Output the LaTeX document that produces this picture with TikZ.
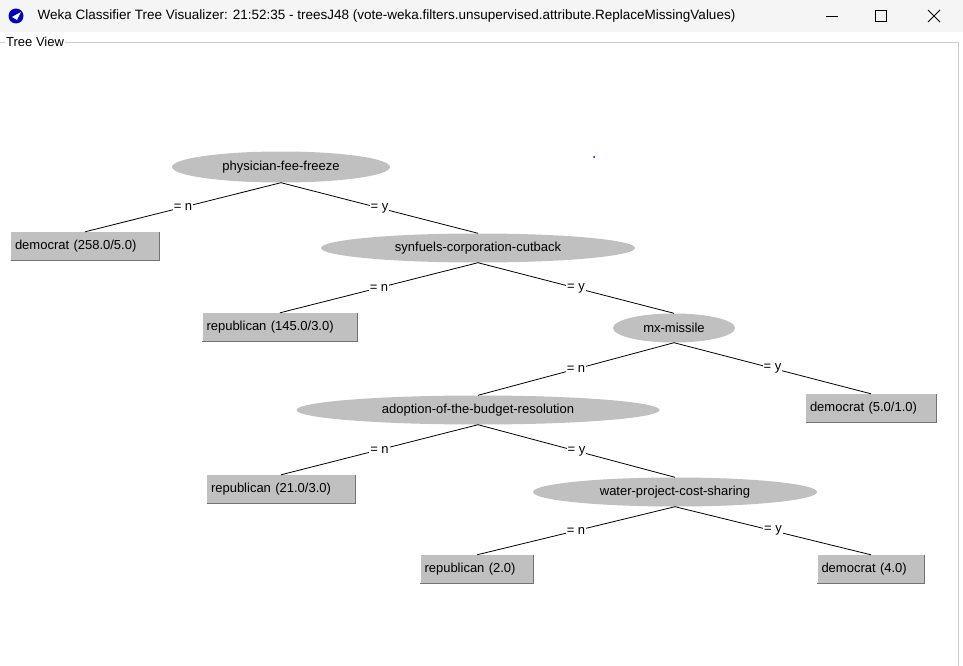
\documentclass[tikz,border=0pt]{standalone}
\usepackage{fontspec}
\setmainfont{Liberation Sans}
\usetikzlibrary{shapes.geometric}
\definecolor{wgray}{HTML}{C0C0C0}
\begin{document}
\begin{tikzpicture}[x=1pt,y=-1pt,
  every node/.style={font=\fontsize{13}{15}\selectfont},
  split/.style={ellipse, fill=wgray, inner sep=0pt},
  leaf/.style={rectangle, fill=wgray, inner xsep=4pt, inner ysep=0pt, minimum height=28pt, align=left},
  edge/.style={draw=black, line width=0.8pt},
  lbl/.style={fill=white, inner sep=1pt, midway}]
\useasboundingbox (0,0) rectangle (963,666);
\fill[white] (0,0) rectangle (963,666);
\fill[black!4] (0,0) rectangle (963,32);
\node[anchor=west, font=\fontsize{13.5}{15}\selectfont] (title) at (34,16) {Weka Classifier Tree Visualizer: 21:52:35 - treesJ48 (vote-weka.filters.unsupervised.attribute.ReplaceMissingValues)};
\fill[blue!75!black] (16,16) circle (7.5);
\fill[white] (12,17) -- (21,12) -- (17,20) -- cycle;
\draw[line width=0.8pt] (826,16) -- (838,16);
\draw[line width=0.8pt] (875,10) rectangle (886,21);
\draw[line width=0.8pt] (928,10) -- (940,22) (940,10) -- (928,22);
\draw[black!20] (0,42) -- (958,42) -- (958,666);
\node[anchor=west, fill=white, inner sep=1pt, font=\fontsize{13}{14}\selectfont] (tv) at (5,42) {Tree View};
\fill[blue] (594,157) circle (1);

\node[split, minimum width=218pt, minimum height=31pt] (a) at (281,167) {physician-fee-freeze};
\node[leaf, text width=140pt] (b) at (85,246) {democrat (258.0/5.0)};
\node[split, minimum width=314pt, minimum height=29pt] (c) at (478,248) {synfuels-corporation-cutback};
\node[leaf, text width=147pt] (d) at (280,327) {republican (145.0/3.0)};
\node[split, minimum width=122pt, minimum height=29pt] (e) at (674,328) {mx-missile};
\node[split, minimum width=363pt, minimum height=29pt] (f) at (478,410) {adoption-of-the-budget-resolution};
\node[leaf, text width=122pt] (g) at (871,408) {democrat (5.0/1.0)};
\node[leaf, text width=140pt] (h) at (281,489) {republican (21.0/3.0)};
\node[split, minimum width=284pt, minimum height=29pt] (i) at (675,492) {water-project-cost-sharing};
\node[leaf, text width=105pt] (j) at (477,569) {republican (2.0)};
\node[leaf, text width=99pt] (k) at (871,569) {democrat (4.0)};

\foreach \n in {b,d,g,h,j,k}{
  \draw[white, line width=1pt] (\n.south west) -- (\n.north west) -- (\n.north east);
  \draw[black!55, line width=1.2pt] (\n.north east) -- (\n.south east) -- (\n.south west);
}

\draw[edge] (a.south) -- (b.north) node[lbl] (l1) {= n};
\draw[edge] (a.south) -- (c.north) node[lbl] (l2) {= y};
\draw[edge] (c.south) -- (d.north) node[lbl] (l3) {= n};
\draw[edge] (c.south) -- (e.north) node[lbl] (l4) {= y};
\draw[edge] (e.south) -- (f.north) node[lbl] (l5) {= n};
\draw[edge] (e.south) -- (g.north) node[lbl] (l6) {= y};
\draw[edge] (f.south) -- (h.north) node[lbl] (l7) {= n};
\draw[edge] (f.south) -- (i.north) node[lbl] (l8) {= y};
\draw[edge] (i.south) -- (j.north) node[lbl] (l9) {= n};
\draw[edge] (i.south) -- (k.north) node[lbl] (l10) {= y};
\end{tikzpicture}
\end{document}
